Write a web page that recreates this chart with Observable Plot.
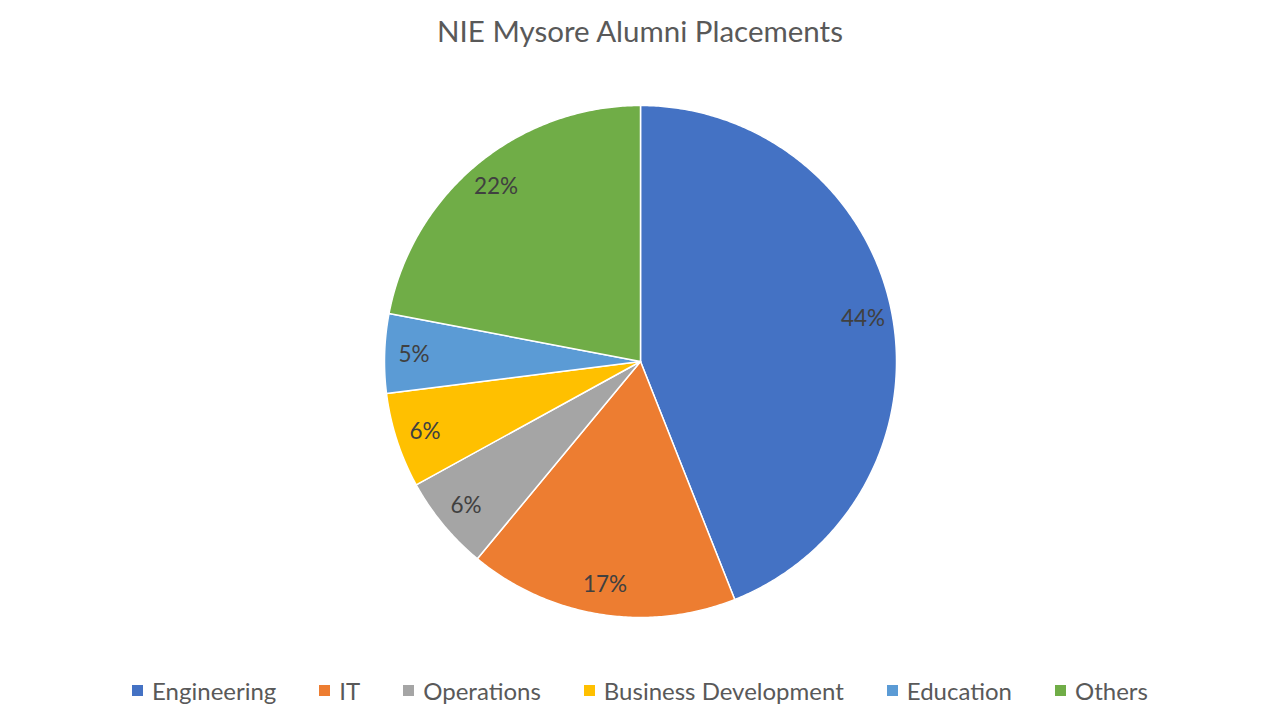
<!DOCTYPE html>
<html>
<head>
<meta charset="utf-8">
<script src="https://cdn.jsdelivr.net/npm/d3@7"></script>
<script src="https://cdn.jsdelivr.net/npm/@observablehq/plot@0.6"></script>
<style>
  html, body { margin: 0; padding: 0; background: #fff; }
  body { width: 1280px; height: 720px; overflow: hidden; font-family: Lato, "Open Sans", sans-serif; color: #595959; }
  #title { height: 60px; display: flex; align-items: center; justify-content: center; font-size: 29.5px; color: #595959; }
  #chart { height: 600px; }
  #legend { height: 60px; display: flex; align-items: center; justify-content: center; gap: 43px; font-size: 24px; color: #595959; }
  .item { display: flex; align-items: center; gap: 9px; }
  .sw { width: 11px; height: 11px; display: inline-block; }
</style>
</head>
<body>
<div id="title">NIE Mysore Alumni Placements</div>
<div id="chart"></div>
<div id="legend"></div>
<script>
const categories = ["Engineering", "IT", "Operations", "Business Development", "Education", "Others"];
const shares = [44, 17, 6, 6, 5, 22];
const colors = ["#4472C4", "#ED7D31", "#A5A5A5", "#FFC000", "#5B9BD5", "#70AD47"];

const total = d3.sum(shares);
const slices = [];
let acc = 0;
categories.forEach((c, i) => {
  const a0 = acc / total * 2 * Math.PI;
  acc += shares[i];
  const a1 = acc / total * 2 * Math.PI;
  slices.push({cat: c, value: shares[i], a0, a1});
});

// Outline points of each slice (center -> arc -> center), unit radius
const outline = [];
for (const s of slices) {
  outline.push({cat: s.cat, x: 0, y: 0});
  const n = Math.max(2, Math.ceil((s.a1 - s.a0) / (Math.PI / 360)));
  for (let k = 0; k <= n; k++) {
    const a = s.a0 + (s.a1 - s.a0) * k / n;
    outline.push({cat: s.cat, x: Math.sin(a), y: Math.cos(a)});
  }
  outline.push({cat: s.cat, x: 0, y: 0});
}

const labelR = 0.885;
const labels = slices.map(s => {
  const m = (s.a0 + s.a1) / 2;
  return {cat: s.cat, text: s.value + "%", x: labelR * Math.sin(m), y: labelR * Math.cos(m)};
});

const W = 1280, H = 600, R = 256, cy = 301;
const plot = Plot.plot({
  width: W,
  height: H,
  marginLeft: W / 2 - R,
  marginRight: W / 2 - R,
  marginTop: cy - R,
  marginBottom: H - cy - R,
  x: {domain: [-1, 1], axis: null},
  y: {domain: [-1, 1], axis: null},
  color: {domain: categories, range: colors},
  style: {fontFamily: "Lato, 'Open Sans', sans-serif", background: "transparent"},
  marks: [
    Plot.line(outline, {x: "x", y: "y", z: "cat", fill: "cat", stroke: "white", strokeWidth: 1.5, strokeLinejoin: "round"}),
    Plot.text(labels, {x: "x", y: "y", text: "text", fill: "#404040", fontSize: 22.5})
  ]
});
document.getElementById("chart").appendChild(plot);

const legend = document.getElementById("legend");
categories.forEach((c, i) => {
  const item = document.createElement("div");
  item.className = "item";
  const sw = document.createElement("span");
  sw.className = "sw";
  sw.style.background = colors[i];
  const t = document.createElement("span");
  t.textContent = c;
  item.appendChild(sw);
  item.appendChild(t);
  legend.appendChild(item);
});
</script>
</body>
</html>
